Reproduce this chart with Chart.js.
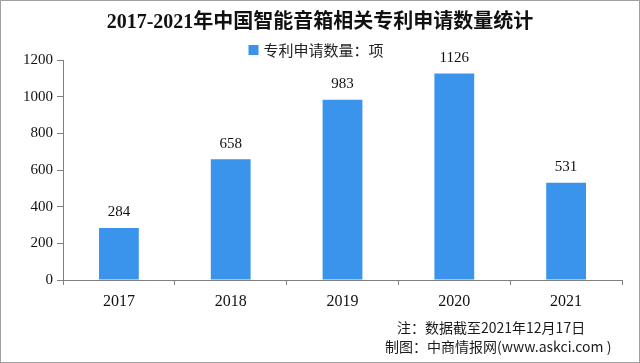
<!DOCTYPE html>
<html>
<head>
<meta charset="utf-8">
<script src="https://cdn.jsdelivr.net/npm/chart.js@4.4.1/dist/chart.umd.min.js"></script>
<style>
  body { margin: 0; background: #fff; }
  #wrap { width: 640px; height: 363px; position: relative; }
</style>
</head>
<body>
<div id="wrap"><canvas id="barChart" width="640" height="363"></canvas></div>
<script>
const years = ['2017', '2018', '2019', '2020', '2021'];
const patentCounts = [284, 658, 983, 1126, 531];
const seriesName = '专利申请数量：项';
const chartTitle = '2017-2021年中国智能音箱相关专利申请数量统计';
const noteLines = ['注：数据截至2021年12月17日', '制图：中商情报网(www.askci.com )'];

const barColor = '#3a94ec';
const axisColor = '#808080';
const serif = "'Liberation Serif', 'Noto Sans CJK SC', serif";

// title, legend, notes, value labels and frame
const decorPlugin = {
    id: 'decor',
    afterDraw(chart) {
        const ctx = chart.ctx;
        ctx.save();

        // frame
        ctx.strokeStyle = '#a0a0a0';
        ctx.lineWidth = 1;
        ctx.strokeRect(0.5, 0.5, chart.width - 1, chart.height - 1);

        // title
        ctx.fillStyle = '#111';
        ctx.font = "bold 20px " + serif;
        ctx.textAlign = 'center';
        ctx.textBaseline = 'middle';
        ctx.fillText(chartTitle, 320, 23);

        // legend
        const label = chart.data.datasets[0].label;
        ctx.font = "15px 'Noto Sans CJK SC', sans-serif";
        const tw = ctx.measureText(label).width;
        const total = 10 + 5 + tw;
        const lx = 316 - total / 2;
        ctx.fillStyle = barColor;
        ctx.fillRect(lx, 45, 10, 10);
        ctx.fillStyle = '#222';
        ctx.textAlign = 'left';
        ctx.fillText(label, lx + 15, 50);

        // value labels
        const meta = chart.getDatasetMeta(0);
        ctx.font = "15px " + serif;
        ctx.textAlign = 'center';
        ctx.textBaseline = 'bottom';
        ctx.fillStyle = '#111';
        meta.data.forEach((bar, i) => {
            ctx.fillText(String(patentCounts[i]), bar.x, bar.y - 8);
        });

        // notes
        ctx.font = "14px 'Noto Sans CJK SC', sans-serif";
        ctx.textBaseline = 'middle';
        ctx.textAlign = 'left';
        ctx.fillStyle = '#1a1a1a';
        ctx.fillText(noteLines[0], 397, 328);
        ctx.fillText(noteLines[1], 385, 347);

        ctx.restore();
    }
};

const ctx = document.getElementById('barChart').getContext('2d');
new Chart(ctx, {
    type: 'bar',
    data: {
        labels: years,
        datasets: [{
            label: seriesName,
            data: patentCounts,
            backgroundColor: barColor,
            borderWidth: 0,
            barPercentage: 0.356,
            categoryPercentage: 1
        }]
    },
    options: {
        responsive: false,
        animation: false,
        devicePixelRatio: 1,
        layout: {
            padding: { top: 60, left: 0, right: 18, bottom: 0 }
        },
        plugins: {
            legend: { display: false },
            title: { display: false },
            tooltip: { enabled: false }
        },
        scales: {
            x: {
                grid: {
                    offset: true,
                    drawOnChartArea: false,
                    tickLength: 5,
                    color: axisColor
                },
                border: { color: axisColor },
                ticks: {
                    color: '#111',
                    font: { family: serif, size: 16 },
                    padding: 7
                },
                afterFit(scale) { scale.height = 83; }
            },
            y: {
                min: 0,
                max: 1200,
                ticks: {
                    stepSize: 200,
                    color: '#111',
                    font: { family: serif, size: 15 },
                    padding: 4,
                    callback: (v) => String(v)
                },
                grid: {
                    drawOnChartArea: false,
                    tickLength: 6,
                    color: axisColor
                },
                border: { color: axisColor },
                afterFit(scale) { scale.width = 63; }
            }
        }
    },
    plugins: [decorPlugin]
});
</script>
</body>
</html>
